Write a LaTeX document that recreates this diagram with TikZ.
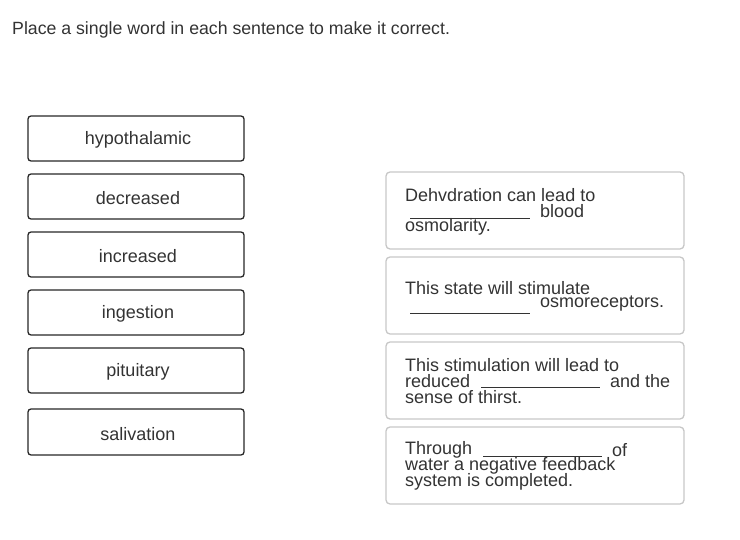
\documentclass[tikz,border=0pt]{standalone}
\usepackage{fontspec}
\setmainfont{Liberation Sans}
\begin{document}
\begin{tikzpicture}[x=1pt,y=-1pt,
  word/.style={draw=black!85,line width=1.3pt,rounded corners=3pt},
  slot/.style={draw=black!22,line width=1.3pt,rounded corners=4pt},
  t/.style={anchor=west,inner sep=0pt,font=\fontsize{18}{18}\selectfont,text=black!80},
  blank/.style={draw=black!80,line width=0.6pt}]
\useasboundingbox (0,0) rectangle (740,540);
\node[t,font=\fontsize{17.7}{18}\selectfont] (title) at (12,30) {Place a single word in each sentence to make it correct.};
\foreach \n/\y/\w in {a/116/hypothalamic,b/174/decreased,c/232/increased,d/290/ingestion,e/348/pituitary} {
  \draw[word] (28,\y) rectangle (244,\y+45);
  \node[t,anchor=center] (\n) at (138,\y+24) {\w};
}
\draw[word] (28,409) rectangle (244,455);
\node[t,anchor=center] (f) at (138,434) {salivation};
\foreach \y in {172,257,342,427} \draw[slot] (386,\y) rectangle (684,\y+77);
\node[t] (s1a) at (405,195) {Dehvdration can lead to};
\node[t] (s1b) at (540,211) {blood};
\node[t] (s1c) at (405,227) {osmolarity.};
\coordinate (b1a) at (410,218); \coordinate (b1b) at (530,218);
\draw[blank] (b1a) -- (b1b);
\node[t] (s2a) at (405,288) {This state will stimulate};
\node[t] (s2b) at (540,304) {osmoreceptors.};
\coordinate (b2a) at (410,313); \coordinate (b2b) at (530,313);
\draw[blank] (b2a) -- (b2b);
\node[t] (s3a) at (405,365) {This stimulation will lead to};
\node[t] (s3b) at (405,381) {reduced};
\node[t] (s3c) at (610,381) {and the};
\node[t] (s3d) at (405,397) {sense of thirst.};
\coordinate (b3a) at (481,387); \coordinate (b3b) at (600,387);
\draw[blank] (b3a) -- (b3b);
\node[t] (s4a) at (405,450) {Through};
\node[t] (s4b) at (612,450) {of};
\node[t] (s4c) at (405,466) {water a negative feedback};
\node[t] (s4d) at (405,482) {system is completed.};
\coordinate (b4a) at (483,456); \coordinate (b4b) at (602,456);
\draw[blank] (b4a) -- (b4b);
\end{tikzpicture}
\end{document}
